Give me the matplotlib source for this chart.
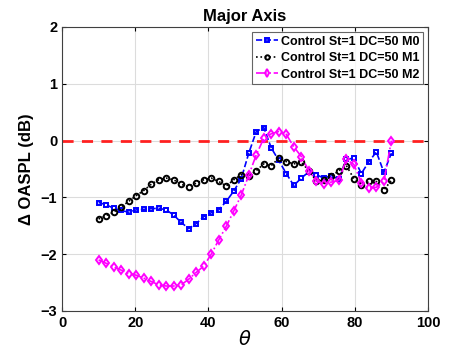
import numpy as np
import matplotlib
matplotlib.use("Agg")
import matplotlib.pyplot as plt

theta = [10.0, 12.05, 14.1, 16.15, 18.21, 20.26, 22.31, 24.36, 26.41, 28.46,
         30.51, 32.56, 34.62, 36.67, 38.72, 40.77, 42.82, 44.87, 46.92, 48.97,
         51.03, 53.08, 55.13, 57.18, 59.23, 61.28, 63.33, 65.38, 67.44, 69.49,
         71.54, 73.59, 75.64, 77.69, 79.74, 81.79, 83.85, 85.9, 87.95, 90.0]

m0 = [-1.09, -1.13, -1.19, -1.23, -1.26, -1.22, -1.21, -1.20, -1.19, -1.22,
      -1.31, -1.44, -1.55, -1.46, -1.34, -1.27, -1.22, -1.07, -0.89, -0.67,
      -0.22, 0.16, 0.23, -0.13, -0.35, -0.58, -0.79, -0.66, -0.55, -0.60,
      -0.66, -0.62, -0.68, -0.33, -0.31, -0.58, -0.37, -0.20, -0.56, -0.22]

m1 = [-1.38, -1.32, -1.26, -1.17, -1.07, -0.97, -0.88, -0.77, -0.69, -0.66,
      -0.69, -0.77, -0.81, -0.75, -0.69, -0.66, -0.72, -0.80, -0.69, -0.60,
      -0.62, -0.53, -0.41, -0.44, -0.31, -0.37, -0.41, -0.38, -0.53, -0.71,
      -0.70, -0.63, -0.53, -0.44, -0.67, -0.78, -0.72, -0.72, -0.87, -0.70]

m2 = [-2.10, -2.16, -2.22, -2.28, -2.34, -2.37, -2.42, -2.48, -2.54, -2.56,
      -2.56, -2.54, -2.44, -2.32, -2.21, -2.00, -1.75, -1.51, -1.24, -0.96,
      -0.61, -0.25, 0.04, 0.12, 0.16, 0.11, -0.11, -0.28, -0.53, -0.71,
      -0.76, -0.73, -0.70, -0.33, -0.42, -0.74, -0.84, -0.82, -0.72, 0.00]

labels = ["Control St=1 DC=50 M0", "Control St=1 DC=50 M1", "Control St=1 DC=50 M2"]

plt.rcParams['font.family'] = ['Liberation Sans', 'DejaVu Sans']

fig = plt.figure(figsize=(4.74, 3.55), dpi=100)
ax = fig.add_axes([62/474, 1-311/355, (428-62)/474, (311-27)/355])

ax.axhline(0, color='#ff2020', linestyle=(0, (4, 3)), linewidth=2, zorder=1)

ax.plot(theta, m0, linestyle='--', color='#0000ff', marker='s', markersize=3.5,
        markerfacecolor='none', markeredgewidth=1.4, linewidth=1.2, label=labels[0], zorder=3)
ax.plot(theta, m1, linestyle=':', color='black', marker='o', markersize=4,
        markerfacecolor='none', markeredgewidth=1.4, linewidth=1.2, label=labels[1], zorder=3)
ax.plot(theta, m2, linestyle='-.', color='#ff00ff', marker='d', markersize=4.5,
        markerfacecolor='none', markeredgewidth=1.4, linewidth=1.2, label=labels[2], zorder=3)

ax.set_xlim(0, 100)
ax.set_ylim(-3, 2)
ax.set_xticks([0, 20, 40, 60, 80, 100])
ax.set_yticks([-3, -2, -1, 0, 1, 2])
ax.grid(True, color='#dcdcdc', linewidth=0.8)
ax.set_axisbelow(True)
ax.tick_params(direction='in', length=3, labelsize=10.5, width=0.8, top=True, right=True, labeltop=False, labelright=False)
for lbl in ax.get_xticklabels() + ax.get_yticklabels():
    lbl.set_fontweight('bold')
for s in ax.spines.values():
    s.set_color('#404040')
    s.set_linewidth(0.8)

ax.set_title("Major Axis", fontsize=12, fontweight='bold', pad=4)
ax.set_ylabel("Δ OASPL (dB)", fontsize=12, fontweight='bold', labelpad=5)
ax.set_xlabel(r"$\theta$", fontsize=14, labelpad=0)

leg = ax.legend(loc='upper right', prop={'weight': 'bold', 'size': 9},
                frameon=True, fancybox=False, edgecolor='#404040', borderpad=0.3,
                handlelength=1.8, handletextpad=0.2, labelspacing=0.35,
                borderaxespad=0.4, markerscale=0.8)
leg.get_frame().set_linewidth(0.8)

fig.savefig("out.png", dpi=100)
